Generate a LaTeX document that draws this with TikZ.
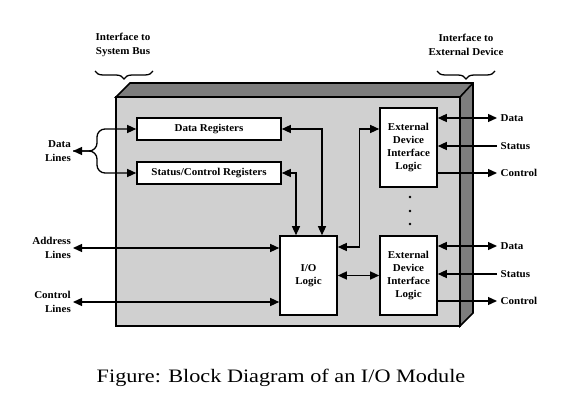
\documentclass[tikz,border=0pt]{standalone}
\usepackage{fontspec}
\setmainfont{Liberation Serif}
\newfontfamily\labfont[FakeStretch=1.05]{Liberation Serif}
\newfontfamily\capfont[FakeStretch=1.17]{Liberation Serif}
\usetikzlibrary{arrows.meta,decorations.pathreplacing}

\definecolor{faceGray}{RGB}{208,208,208}
\definecolor{edgeGray}{RGB}{125,125,125}

\begin{document}
\begin{tikzpicture}[x=1pt, y=-1pt]
    % Define styles
    \tikzset{
        block/.style={
            draw,
            fill=white,
            line width=1.6pt,
            inner sep=0pt,
            align=center,
            font=\labfont\fontsize{10.5}{13.3}\selectfont\bfseries
        },
        link/.style={
            line width=1.3pt,
            {Triangle[length=9pt,width=8pt]}-{Triangle[length=9pt,width=8pt]}
        },
        onelink/.style={
            line width=1.3pt,
            -{Triangle[length=9pt,width=8pt]}
        },
        sig/.style={
            font=\labfont\fontsize{10.5}{13.5}\selectfont\bfseries,
            inner xsep=3.5pt,
            inner ysep=0pt
        },
        bus/.style={
            sig,
            align=right,
            inner xsep=2pt
        },
        curly/.style={
            decorate,
            decoration={brace, amplitude=8pt},
            line width=1.3pt
        }
    }
    \useasboundingbox (0,0) rectangle (578,417);

    % Module body
    \fill[edgeGray, draw=black, line width=1.6pt] (116,97) -- (130,83) -- (473,83) -- (473,313) -- (460,326) -- (460,97) -- cycle;
    \draw[line width=1.6pt] (460,97) -- (473,83);
    \filldraw[fill=faceGray, line width=1.6pt] (116,97) rectangle (460,326);

    % Blocks
    \node[block, minimum width=144pt, minimum height=22pt] (dreg) at (209,129) {Data Registers};
    \node[block, minimum width=144pt, minimum height=22pt] (sreg) at (209,173) {Status/Control Registers};
    \node[block, minimum width=57pt, minimum height=79pt] (iolog) at (308.5,275.5) {I/O\\Logic};
    \node[block, minimum width=57pt, minimum height=79pt] (ext1) at (408.5,147.5) {External\\Device\\Interface\\Logic};
    \node[block, minimum width=57pt, minimum height=79pt] (ext2) at (408.5,275.5) {External\\Device\\Interface\\Logic};

    % Dots between the device blocks
    \foreach \y in {197,211,224}
        \fill (410,\y) circle (1.3pt);

    % System bus side
    \node[bus, anchor=east] (dlines) at (73,151) {Data\\Lines};
    \node[bus, anchor=east] (alines) at (73,248) {Address\\Lines};
    \node[bus, anchor=east] (clines) at (73,302) {Control\\Lines};
    \draw[link, rounded corners=8pt] (dlines.east) -- (97,151) -- (97,129) -- (dreg.west);
    \draw[onelink, rounded corners=8pt] (dlines.east) -- (97,151) -- (97,173) -- (sreg.west);
    \draw[link] (alines.east) -- (alines.east -| iolog.west);
    \draw[link] (clines.east) -- (clines.east -| iolog.west);

    % Registers to I/O logic
    \draw[link] (dreg.east) -| ([xshift=13.5pt]iolog.north);
    \draw[link] (sreg.east) -| ([xshift=-12.5pt]iolog.north);

    % I/O logic to device logic
    \draw[link] ([yshift=28.5pt]iolog.east) -- ++(22,0) |- ([yshift=18.5pt]ext1.west);
    \draw[link] (iolog.east) -- (ext2.west);

    % External device side
    \foreach \blk/\dy in {ext1/0, ext2/128} {
        \node[sig, anchor=west] (\blk-d) at (497,118+\dy) {Data};
        \node[sig, anchor=west] (\blk-s) at (497,146+\dy) {Status};
        \node[sig, anchor=west] (\blk-c) at (497,173+\dy) {Control};
        \draw[link] (\blk-d.west -| \blk.east) -- (\blk-d.west);
        \draw[onelink] (\blk-s.west) -- (\blk-s.west -| \blk.east);
        \draw[onelink] (\blk-c.west -| \blk.east) -- (\blk-c.west);
    }

    % Interface braces
    \node[sig, align=center, inner ysep=0pt] (sysbus) at (123,45) {Interface to\\System Bus};
    \node[sig, align=center, inner ysep=0pt] (extdev) at (466,45) {Interface to\\External Device};
    \draw[curly] (153,71) -- (95,71);
    \draw[curly] (495,71) -- (437,71);

    % Caption
    \node[font=\capfont\fontsize{19}{22}\selectfont] (caption) at (281,378) {Figure: Block Diagram of an I/O Module};
\end{tikzpicture}
\end{document}
